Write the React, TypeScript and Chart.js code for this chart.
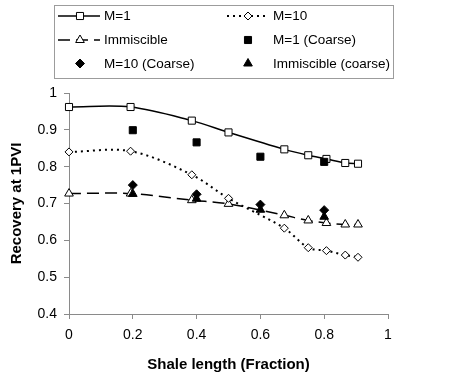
import React, { useEffect, useRef } from 'react';
import { Chart, registerables } from 'chart.js';

Chart.register(...registerables);

// Fine-grid simulations (hollow markers, smoothed lines)
const shaleFine = [0, 0.193, 0.385, 0.5, 0.675, 0.75, 0.807, 0.866, 0.906];
const recoveryM1 = [0.962, 0.962, 0.925, 0.893, 0.847, 0.831, 0.821, 0.81, 0.808];
const recoveryM10 = [0.84, 0.842, 0.778, 0.714, 0.633, 0.58, 0.572, 0.56, 0.554];
const recoveryImmiscible = [0.727, 0.727, 0.709, 0.699, 0.668, 0.654, 0.647, 0.643, 0.643];

// Coarse-grid simulations (filled markers, no lines)
const shaleCoarse = [0.2, 0.4, 0.6, 0.8];
const recoveryM1Coarse = [0.899, 0.866, 0.827, 0.813];
const recoveryM10Coarse = [0.75, 0.725, 0.697, 0.682];
const recoveryImmCoarse = [0.726, 0.713, 0.683, 0.664];

const xTickValues = [0, 0.2, 0.4, 0.6, 0.8, 1];
const yTickValues = [0.4, 0.5, 0.6, 0.7, 0.8, 0.9, 1];

const seriesLabels = ['M=1', 'M=10', 'Immiscible', 'M=1 (Coarse)', 'M=10 (Coarse)', 'Immiscible (coarse)'];
const xTitle = 'Shale length (Fraction)';
const yTitle = 'Recovery at 1PVI';

const FONT = '"Liberation Sans", Arial, sans-serif';

const toPoints = (xs: number[], ys: number[]) => xs.map((x, i) => ({ x, y: ys[i] }));

function drawMarker(ctx: CanvasRenderingContext2D, shape: string, x: number, y: number, r: number, filled: boolean) {
  ctx.beginPath();
  if (shape === 'rect') {
    const s = Math.SQRT1_2 * r;
    ctx.rect(x - s, y - s, 2 * s, 2 * s);
  } else if (shape === 'rectRot') {
    ctx.moveTo(x, y - r);
    ctx.lineTo(x + r, y);
    ctx.lineTo(x, y + r);
    ctx.lineTo(x - r, y);
    ctx.closePath();
  } else {
    let a = 0;
    ctx.moveTo(x + Math.sin(a) * r, y - Math.cos(a) * r);
    a += (2 * Math.PI) / 3;
    ctx.lineTo(x + Math.sin(a) * r, y - Math.cos(a) * r);
    a += (2 * Math.PI) / 3;
    ctx.lineTo(x + Math.sin(a) * r, y - Math.cos(a) * r);
    ctx.closePath();
  }
  ctx.fillStyle = filled ? '#000' : '#fff';
  ctx.fill();
  ctx.setLineDash([]);
  ctx.lineWidth = 1;
  ctx.strokeStyle = '#000';
  ctx.stroke();
}

const legendItems = [
  { label: seriesLabels[0], col: 0, row: 0, line: true, dash: [] as number[], lw: 1.5, shape: 'rect', r: 5, filled: false },
  { label: seriesLabels[1], col: 1, row: 0, line: true, dash: [2, 4], lw: 2, shape: 'rectRot', r: 4, filled: false },
  { label: seriesLabels[2], col: 0, row: 1, line: true, dash: [12, 6], lw: 1.5, shape: 'triangle', r: 5, filled: false },
  { label: seriesLabels[3], col: 1, row: 1, line: false, dash: [], lw: 1, shape: 'rect', r: 5, filled: true },
  { label: seriesLabels[4], col: 0, row: 2, line: false, dash: [], lw: 1, shape: 'rectRot', r: 4.5, filled: true },
  { label: seriesLabels[5], col: 1, row: 2, line: false, dash: [], lw: 1, shape: 'triangle', r: 5, filled: true },
];

const legendPlugin = {
  id: 'boxLegend',
  afterDraw(chart: any) {
    const ctx: CanvasRenderingContext2D = chart.ctx;
    ctx.save();
    ctx.strokeStyle = '#9c9c9c';
    ctx.lineWidth = 1;
    ctx.setLineDash([]);
    ctx.strokeRect(54.5, 5.5, 339, 73);
    const rowY = [16, 40, 63.5];
    const colSample = [
      { x0: 58, x1: 100, mx: 80, tx: 104 },
      { x0: 227, x1: 269, mx: 248, tx: 273 },
    ];
    ctx.font = `13.5px ${FONT}`;
    ctx.textBaseline = 'middle';
    ctx.textAlign = 'left';
    for (const it of legendItems) {
      const c = colSample[it.col];
      const y = rowY[it.row];
      if (it.line) {
        ctx.beginPath();
        ctx.setLineDash(it.dash);
        ctx.lineWidth = it.lw;
        ctx.strokeStyle = '#000';
        ctx.moveTo(c.x0, y);
        ctx.lineTo(c.x1, y);
        ctx.stroke();
      }
      drawMarker(ctx, it.shape, c.mx, y, it.r, it.filled);
      ctx.fillStyle = '#000';
      ctx.fillText(it.label, c.tx, y + 0.5);
    }
    ctx.restore();
  },
};

export default function App() {
  const ref = useRef<HTMLCanvasElement>(null);

  useEffect(() => {
    if (!ref.current) return;
    const lineBase = {
      borderColor: '#000',
      pointBackgroundColor: '#fff',
      pointBorderColor: '#000',
      pointBorderWidth: 1,
      tension: 0.33,
      fill: false,
      clip: false,
    };
    const scatterBase = {
      showLine: false,
      borderColor: '#000',
      backgroundColor: '#000',
      pointBackgroundColor: '#000',
      pointBorderColor: '#000',
      pointBorderWidth: 1,
      clip: false,
    };
    const chart = new Chart(ref.current, {
      type: 'line',
      data: {
        datasets: [
          { ...scatterBase, label: seriesLabels[3], data: toPoints(shaleCoarse, recoveryM1Coarse), pointStyle: 'rect', pointRadius: 5 },
          { ...scatterBase, label: seriesLabels[4], data: toPoints(shaleCoarse, recoveryM10Coarse), pointStyle: 'rectRot', pointRadius: 4.5 },
          { ...scatterBase, label: seriesLabels[5], data: toPoints(shaleCoarse, recoveryImmCoarse), pointStyle: 'triangle', pointRadius: 5 },
          { ...lineBase, label: seriesLabels[0], data: toPoints(shaleFine, recoveryM1), borderWidth: 1.5, pointStyle: 'rect', pointRadius: 5 },
          { ...lineBase, label: seriesLabels[1], data: toPoints(shaleFine, recoveryM10), borderWidth: 2, borderDash: [2, 4], pointStyle: 'rectRot', pointRadius: 4 },
          { ...lineBase, label: seriesLabels[2], data: toPoints(shaleFine, recoveryImmiscible), borderWidth: 1.5, borderDash: [12, 6], pointStyle: 'triangle', pointRadius: 5 },
        ],
      },
      options: {
        responsive: false,
        animation: false,
        devicePixelRatio: 1,
        layout: { padding: { top: 93, right: 86, bottom: 0, left: 0 } },
        plugins: {
          legend: { display: false },
          tooltip: { enabled: false },
          title: { display: false },
        },
        scales: {
          x: {
            type: 'linear',
            min: 0,
            max: 1,
            afterBuildTicks: (axis: any) => {
              axis.ticks = xTickValues.map((v) => ({ value: v }));
            },
            afterFit: (axis: any) => {
              axis.height = 68;
            },
            ticks: {
              color: '#000',
              font: { family: FONT, size: 14 },
              padding: 8,
              maxRotation: 0,
              callback: (v: any) => String(+Number(v).toFixed(1)),
            },
            grid: { display: true, drawOnChartArea: false, drawTicks: true, tickLength: 5, color: '#8a8a8a' },
            border: { display: true, color: '#8a8a8a', width: 1 },
            title: {
              display: true,
              text: xTitle,
              color: '#000',
              font: { family: FONT, size: 15, weight: 'bold' },
              padding: { top: 0, bottom: 8 },
            },
          },
          y: {
            type: 'linear',
            min: 0.4,
            max: 1,
            afterBuildTicks: (axis: any) => {
              axis.ticks = yTickValues.map((v) => ({ value: v }));
            },
            afterFit: (axis: any) => {
              axis.width = 69;
            },
            ticks: {
              color: '#000',
              font: { family: FONT, size: 14 },
              padding: 7,
              callback: (v: any) => String(+Number(v).toFixed(1)),
            },
            grid: { display: true, drawOnChartArea: false, drawTicks: true, tickLength: 5, color: '#8a8a8a' },
            border: { display: true, color: '#8a8a8a', width: 1 },
            title: {
              display: true,
              text: yTitle,
              color: '#000',
              font: { family: FONT, size: 15, weight: 'bold' },
              padding: { top: 8, bottom: 0 },
            },
          },
        },
      } as any,
      plugins: [legendPlugin],
    });
    return () => chart.destroy();
  }, []);

  return (
    <div style={{ position: 'fixed', left: 0, top: 0, width: 474, height: 382, background: '#fff' }}>
      <canvas ref={ref} width={474} height={382} style={{ display: 'block', width: 474, height: 382 }} />
    </div>
  );
}
